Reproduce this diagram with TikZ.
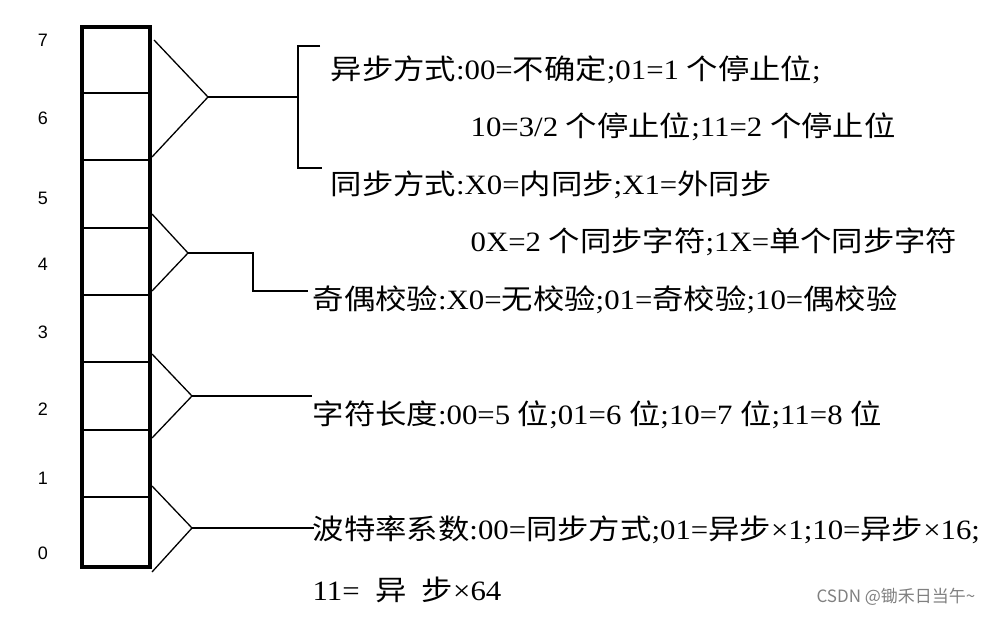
\documentclass[tikz,border=0pt]{standalone}
\usepackage{fontspec}
\setmainfont{Liberation Serif}[FakeStretch=1.1]
\newfontfamily\cjk{Noto Sans CJK SC}[FakeStretch=1.12]
\newfontfamily\numf{Liberation Sans}
\newfontfamily\wmf{Noto Sans CJK SC}
\begin{document}
\begin{tikzpicture}[x=1pt,y=-1pt,line width=1.3pt,
  lbl/.style={anchor=west,inner sep=0pt,font=\fontsize{28}{28}\selectfont},
  num/.style={font=\numf\fontsize{18}{18}\selectfont,inner sep=0pt}]
\useasboundingbox (0,0) rectangle (995,616);
% register cells
\foreach \y in {93,160,228,295,362,430,497} \draw (82,\y) -- (150,\y);
\draw[line width=4pt] (82,27) rectangle (150,567);
\foreach \n/\y in {7/40,6/118,5/198,4/264,3/332,2/409,1/478,0/553}
  \node[num] (n\n) at (43,\y) {\n};
% group 7-6
\coordinate (a1) at (154,40); \coordinate (a2) at (208,97); \coordinate (a3) at (152,157);
\draw (a1) -- (a2) -- (a3);
\coordinate (b1) at (298,97);
\draw (a2) -- (b1);
\coordinate (bt) at (298,46); \coordinate (bb) at (298,168);
\coordinate (bt2) at (320,46); \coordinate (bb2) at (322,168);
\draw (bt2) -- (bt) -- (bb) -- (bb2);
% group 5-4
\coordinate (c1) at (152,214); \coordinate (c2) at (188,253); \coordinate (c3) at (152,291);
\draw (c1) -- (c2) -- (c3);
\coordinate (d1) at (253,253); \coordinate (d2) at (253,291); \coordinate (d3) at (308,291);
\draw (c2) -- (d1) -- (d2) -- (d3);
% group 3-2
\coordinate (e1) at (152,354); \coordinate (e2) at (192,396); \coordinate (e3) at (152,438);
\draw (e1) -- (e2) -- (e3);
\coordinate (f1) at (312,396);
\draw (e2) -- (f1);
% group 1-0
\coordinate (g1) at (152,486); \coordinate (g2) at (192,528); \coordinate (g3) at (152,572);
\draw (g1) -- (g2) -- (g3);
\coordinate (h1) at (314,528);
\draw (g2) -- (h1);
% texts
\node[lbl] (t1) at (330,70) {{\cjk 异步方式}:00={\cjk 不确定};01=1 {\cjk 个停止位};};
\node[lbl] (t2) at (470,127) {10=3/2 {\cjk 个停止位};11=2 {\cjk 个停止位}};
\node[lbl] (t3) at (330,185) {{\cjk 同步方式}:X0={\cjk 内同步};X1={\cjk 外同步}};
\node[lbl] (t4) at (470,242) {0X=2 {\cjk 个同步字符};1X={\cjk 单个同步字符}};
\node[lbl] (t5) at (312,300) {{\cjk 奇偶校验}:X0={\cjk 无校验};01={\cjk 奇校验};10={\cjk 偶校验}};
\node[lbl] (t6) at (312,415) {{\cjk 字符长度}:00=5 {\cjk 位};01=6 {\cjk 位};10=7 {\cjk 位};11=8 {\cjk 位}};
\node[lbl] (t7) at (312,530) {{\cjk 波特率系数}:00={\cjk 同步方式};01={\cjk 异步}×1;10={\cjk 异步}×16;};
\node[lbl] (t8) at (312,590) {11= \ {\cjk 异} \ {\cjk 步}×64};
\node[anchor=east,inner sep=0pt,text=gray,font=\wmf\fontsize{17}{17}\selectfont] (wm) at (976,597) {CSDN @锄禾日当午\textasciitilde};
\end{tikzpicture}
\end{document}
